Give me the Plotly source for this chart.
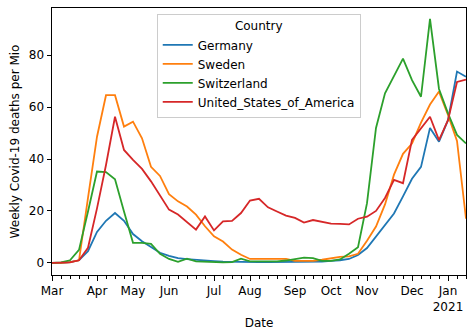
import datetime as dt
import plotly.graph_objects as go

start = dt.date(2020, 3, 2)
n_weeks = 47
weeks = [start + dt.timedelta(days=7 * i) for i in range(n_weeks)]

germany = [0, 0, 0.3, 1, 4.5, 11.9, 16.2, 19.2, 16.2, 11.1, 8.3, 6, 3.9, 2.7, 1.8, 1.4,
           1.1, 0.9, 0.7, 0.5, 0.4, 0.4, 0.4, 0.3, 0.3, 0.3, 0.3, 0.3, 0.3, 0.4, 0.5, 0.8,
           1.0, 1.5, 3.0, 5.7, 10.0, 14.5, 19.0, 25.6, 32.4, 37.0, 52.0, 46.7, 55.0, 73.7, 71.7]
sweden = [0, 0, 0.3, 1, 25, 48.6, 64.6, 64.6, 52.5, 54.4, 48, 37, 33.5, 26.5, 23.7, 21.7,
          18.6, 14.1, 10.2, 8.2, 5.1, 3.1, 1.5, 1.5, 1.5, 1.5, 1.5, 0.8, 0.8, 0.8, 1.2, 1.8,
          2.3, 2.5, 3.5, 8.5, 14.0, 22.5, 34.0, 42.0, 46.0, 54.0, 61.0, 66.0, 57.0, 47.0, 17.0]
switzerland = [0, 0.2, 1, 5, 19.8, 35.2, 35, 32.2, 19.8, 7.7, 7.7, 7.3, 3.5, 1.5, 0.4, 1.6,
               0.6, 0.4, 0.4, 0.2, 0.3, 1.6, 0.6, 0.6, 0.6, 0.6, 0.9, 1.5, 2.0, 1.8, 0.8, 0.8,
               1.3, 3.5, 6.0, 23.0, 52.0, 65.3, 71.7, 78.7, 70.4, 64.0, 94.0, 67.0, 57.6, 49.3, 46.0]
usa = [0, 0, 0.2, 1, 5.8, 21, 37.7, 56.3, 43.5, 39.7, 36.2, 31.4, 26.2, 20.5, 18.6, 15.7,
       12.8, 17.9, 12.5, 16, 16.2, 19.2, 24.0, 24.7, 21.4, 19.8, 18.2, 17.3, 15.5, 16.5, 15.8, 15.1,
       15.0, 14.8, 17.0, 17.8, 20.0, 25.0, 32.0, 30.7, 47.4, 51.8, 56.3, 47.3, 55.0, 69.7, 70.6]

series = [("Germany", germany, "#1f77b4"),
          ("Sweden", sweden, "#ff7f0e"),
          ("Switzerland", switzerland, "#2ca02c"),
          ("United_States_of_America", usa, "#d62728")]

tick_dates = [dt.date(2020, 3, 2), dt.date(2020, 4, 6), dt.date(2020, 5, 4), dt.date(2020, 6, 1),
              dt.date(2020, 7, 6), dt.date(2020, 8, 3), dt.date(2020, 9, 7), dt.date(2020, 10, 5),
              dt.date(2020, 11, 2), dt.date(2020, 12, 7), dt.date(2021, 1, 4)]
tick_text = ["Mar", "Apr", "May", "Jun", "Jul", "Aug", "Sep", "Oct", "Nov", "Dec", "Jan<br>2021"]
y_ticks = [0, 20, 40, 60, 80]

fig = go.Figure()
for name, vals, color in series:
    fig.add_trace(go.Scatter(x=weeks, y=vals, mode="lines", name=name,
                             line=dict(color=color, width=1.8)))

font = dict(family="DejaVu Sans", size=12, color="black")
fig.update_layout(
    width=474, height=335,
    margin=dict(l=52, r=7, t=8, b=57),
    plot_bgcolor="white", paper_bgcolor="white",
    font=font,
    showlegend=True,
    legend=dict(
        x=0.253, y=0.978, xanchor="left", yanchor="top",
        bgcolor="rgba(255,255,255,0.8)", bordercolor="#cccccc", borderwidth=1,
        title=dict(text="Country", side="top center", font=font),
        font=font, itemwidth=30, tracegroupgap=0,
    ),
)
fig.update_xaxes(
    type="date", range=[weeks[0], weeks[-1]],
    tickmode="array", tickvals=tick_dates, ticktext=tick_text,
    ticks="outside", ticklen=4.5, tickwidth=1, tickcolor="black",
    showline=True, mirror=True, linecolor="black", linewidth=1,
    showgrid=False, zeroline=False,
    title=dict(text="Date", font=font, standoff=6),
    minor=dict(ticks="outside", ticklen=2.5, tickwidth=0.8, tickcolor="black",
               tickmode="array", tickvals=weeks, showgrid=False),
)
fig.update_yaxes(
    range=[-4.68, 98.2],
    tickmode="array", tickvals=y_ticks,
    ticks="outside", ticklen=4.5, tickwidth=1, tickcolor="black",
    showline=True, mirror=True, linecolor="black", linewidth=1,
    showgrid=False, zeroline=False,
    title=dict(text="Weekly Covid-19 deaths per Mio", font=font, standoff=6),
)

fig.write_html("out.html")
